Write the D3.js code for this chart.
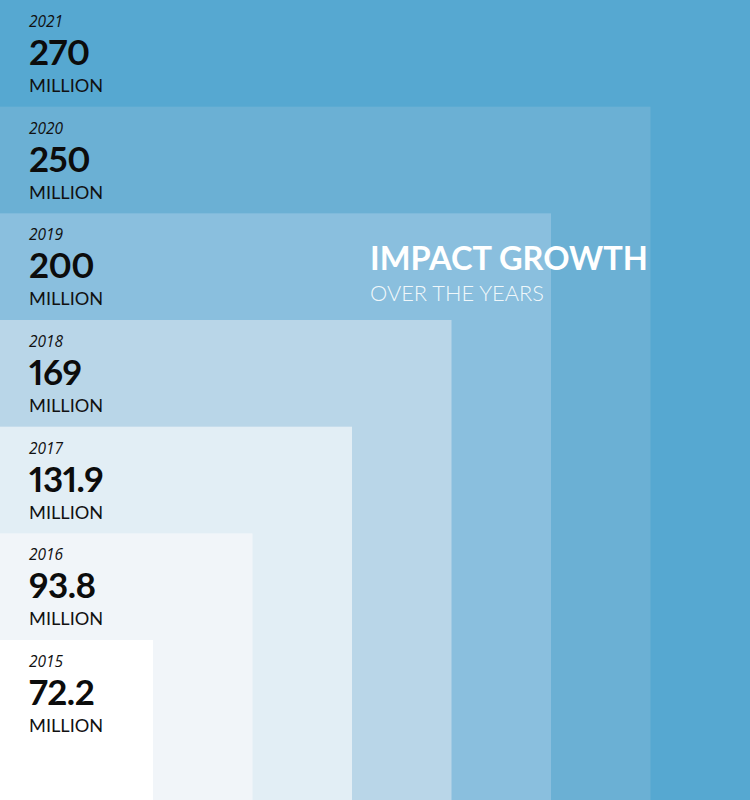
<!DOCTYPE html>
<html>
<head>
<meta charset="utf-8">
<script src="https://cdn.jsdelivr.net/npm/d3@7"></script>
<style>
  html, body { margin: 0; padding: 0; background: #fff; }
  svg { display: block; }
  .num { font-variant-numeric: proportional-nums; font-feature-settings: "pnum" 1; }
</style>
</head>
<body>
<div id="container"></div>
<script>
const WIDTH = 750;
const HEIGHT = 800;

// data, oldest first
const years = ["2015", "2016", "2017", "2018", "2019", "2020", "2021"];
const reach = [72.2, 93.8, 131.9, 169, 200, 250, 270];
const unit = "MILLION";
const fills = ["#ffffff", "#f1f5f9", "#e2eef5", "#b9d6e8", "#8abfde", "#6bb0d4", "#56a8d1"];

var translate = function (x, y) {
    return "translate(" + x + "," + y + ")";
};

var svg = d3.select("#container")
    .append("svg")
    .attr("width", WIDTH)
    .attr("height", HEIGHT);

// each year is a box anchored bottom-left, stepped evenly by rank
var xRight = d3.scalePoint().domain(years).range([153, WIDTH]);
var yTop = d3.scalePoint().domain(years).range([640, 0]);

var rows = years.map(function (y, i) {
    return {year: y, value: reach[i], fill: fills[i]};
}).reverse();

svg.selectAll("rect.box").data(rows)
    .enter()
    .append("rect")
    .attr("class", "box")
    .attr("x", 0)
    .attr("y", function (d) { return yTop(d.year); })
    .attr("width", function (d) { return xRight(d.year); })
    .attr("height", function (d) { return HEIGHT - yTop(d.year); })
    .attr("fill", function (d) { return d.fill; });

var labels = svg.selectAll("g.label").data(rows)
    .enter()
    .append("g")
    .attr("class", "label")
    .attr("transform", function (d) { return translate(29, yTop(d.year)); });

labels.append("text")
    .attr("y", 27)
    .attr("font-family", "'Open Sans', sans-serif")
    .attr("font-style", "italic")
    .attr("font-size", 15.5)
    .attr("fill", "#111")
    .text(function (d) { return d.year; });

labels.append("text")
    .attr("class", "num")
    .attr("y", 65)
    .attr("font-family", "Lato, sans-serif")
    .attr("font-weight", 700)
    .attr("font-size", 35)
    .attr("letter-spacing", -0.5)
    .attr("fill", "#0c0c0c")
    .text(function (d) { return String(d.value); });

labels.append("text")
    .attr("y", 92)
    .attr("font-family", "Lato, sans-serif")
    .attr("font-weight", 400)
    .attr("font-size", 18.2)
    .attr("fill", "#111")
    .text(unit);

svg.append("text")
    .attr("x", 370)
    .attr("y", 270)
    .attr("font-family", "Lato, sans-serif")
    .attr("font-weight", 700)
    .attr("font-size", 32.6)
    .attr("fill", "#ffffff")
    .text("IMPACT GROWTH");

svg.append("text")
    .attr("x", 370)
    .attr("y", 301)
    .attr("font-family", "Lato, sans-serif")
    .attr("font-weight", 300)
    .attr("font-size", 21.8)
    .attr("fill", "#ffffff")
    .attr("fill-opacity", 0.9)
    .text("OVER THE YEARS");
</script>
</body>
</html>
